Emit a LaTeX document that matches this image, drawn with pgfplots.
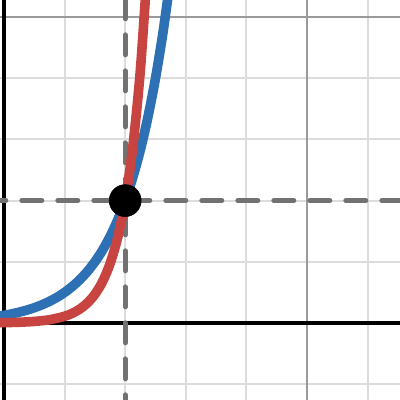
\documentclass[border=0pt]{standalone}
\usepackage{pgfplots}
\pgfplotsset{compat=1.18}

\definecolor{dblue}{HTML}{2D70B3}
\definecolor{dred}{HTML}{C74440}
\definecolor{minorgrid}{HTML}{DCDCDC}
\definecolor{majorgrid}{HTML}{9A9A9A}
\definecolor{dashgray}{HTML}{727272}

\begin{document}
\begin{tikzpicture}
  \begin{axis}[
      name=ax,
      scale only axis,
      width=300pt,
      height=300pt,
      xmin=-0.066, xmax=6.535,
      ymin=-1.258, ymax=5.278,
      axis line style={draw=none},
      xtick={-1,0,...,7},
      ytick={-2,-1,...,6},
      xticklabels={}, yticklabels={},
      major tick length=0pt,
      grid=major,
      grid style={minorgrid, line width=1.5pt},
      extra x ticks={5},
      extra y ticks={5},
      extra x tick labels={},
      extra y tick labels={},
      extra tick style={grid style={majorgrid, line width=1.5pt}},
      clip=true,
  ]
  % axes
  \addplot[black, line width=2.4pt] coordinates {(-1,0) (8,0)};
  \addplot[black, line width=2.4pt] coordinates {(0,-2) (0,6)};

  % dashed guide lines
  \addplot[dashgray, line width=3.75pt, line cap=round,
           dash pattern=on 15pt off 12pt] coordinates {(-0.3,2) (7,2)};
  \addplot[dashgray, line width=3.75pt, line cap=round,
           dash pattern=on 15pt off 12pt] coordinates {(2,-1.5) (2,5.5)};

  % blue curve
  \addplot[dblue, line width=7.2pt, smooth] coordinates {
      (-0.1,0.109) (0,0.125) (0.125,0.149) (0.25,0.177) (0.375,0.210)
      (0.5,0.25) (0.625,0.297) (0.75,0.354) (0.875,0.420) (1,0.5)
      (1.125,0.595) (1.25,0.707) (1.375,0.841) (1.5,1.0) (1.625,1.189)
      (1.75,1.414) (1.875,1.682) (2,2) (2.125,2.378) (2.25,2.828)
      (2.375,3.364) (2.5,4.0) (2.625,4.757) (2.75,5.657)
  };

  % red curve
  \addplot[dred, line width=7.2pt, smooth] coordinates {
      (-0.1,0.0045) (0,0.0061) (0.25,0.0125) (0.5,0.0258) (0.75,0.0533)
      (1,0.110) (1.125,0.158) (1.25,0.227) (1.375,0.327) (1.5,0.469)
      (1.625,0.674) (1.75,0.969) (1.875,1.392) (2,2) (2.125,2.874)
      (2.25,4.130) (2.375,5.934)
  };

  % intersection point
  \addplot[only marks, mark=*, mark size=12pt, black] coordinates {(2,2)};
  \end{axis}
  \pgfresetboundingbox
  \path[use as bounding box] (ax.south west) rectangle (ax.north east);
\end{tikzpicture}
\end{document}
